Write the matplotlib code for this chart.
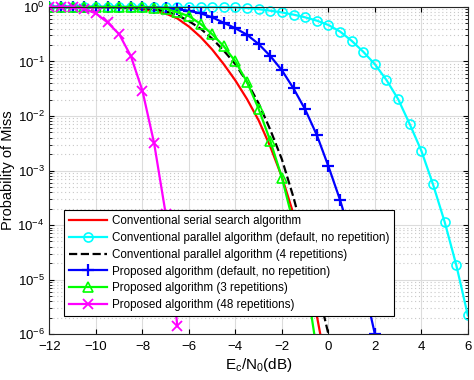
import numpy as np
import matplotlib
matplotlib.use('Agg')
import matplotlib.pyplot as plt
from matplotlib.patches import Rectangle

plt.rcParams['font.family'] = ['Liberation Sans', 'DejaVu Sans']
plt.rcParams['mathtext.default'] = 'regular'

# Ec/N0 (dB) grids, 0.5 dB steps
snr_serial = [-12, -11.5, -11, -10.5, -10, -9.5, -9, -8.5, -8, -7.5, -7, -6.5, -6,
              -5.5, -5, -4.5, -4, -3.5, -3, -2.5, -2, -1.5, -1, -0.5, 0]
pm_serial = [0.9995, 0.999, 0.998, 0.995, 0.99, 0.982, 0.966, 0.94, 0.90, 0.84, 0.76,
             0.617, 0.437, 0.282, 0.166, 0.089, 0.0447, 0.0204, 8.3e-3, 2.75e-3, 7.6e-4,
             1.58e-4, 2.2e-5, 2.2e-6, 1.6e-7]

snr_par = [-12, -11.5, -11, -10.5, -10, -9.5, -9, -8.5, -8, -7.5, -7, -6.5, -6, -5.5,
           -5, -4.5, -4, -3.5, -3, -2.5, -2, -1.5, -1, -0.5, 0, 0.5, 1, 1.5, 2, 2.5,
           3, 3.5, 4, 4.5, 5, 5.5, 6]
pm_par = [1.0, 1.0, 1.0, 1.0, 1.0, 1.0, 1.0, 1.0, 1.0, 1.0, 1.0, 1.0, 0.999, 0.999,
          0.998, 0.993, 0.984, 0.955, 0.912, 0.855, 0.794, 0.724, 0.646, 0.562, 0.468,
          0.355, 0.24, 0.151, 0.089, 0.0457, 0.0204, 7.1e-3, 2.3e-3, 5.6e-4, 1.15e-4,
          1.86e-5, 2.2e-6]

snr_par4 = [-12, -11.5, -11, -10.5, -10, -9.5, -9, -8.5, -8, -7.5, -7, -6.5, -6, -5.5,
            -5, -4.5, -4, -3.5, -3, -2.5, -2, -1.5, -1, -0.5, 0]
pm_par4 = [1.0, 1.0, 0.9995, 0.999, 0.998, 0.995, 0.99, 0.977, 0.955, 0.912, 0.83,
           0.71, 0.55, 0.40, 0.263, 0.158, 0.089, 0.042, 0.017, 5.6e-3, 1.6e-3,
           3.2e-4, 5e-5, 7.9e-6, 1e-6]

snr_prop = [-12, -11.5, -11, -10.5, -10, -9.5, -9, -8.5, -8, -7.5, -7, -6.5, -6, -5.5,
            -5, -4.5, -4, -3.5, -3, -2.5, -2, -1.5, -1, -0.5, 0, 0.5, 1, 1.5, 2]
pm_prop = [1.0, 1.0, 1.0, 1.0, 1.0, 0.999, 0.998, 0.995, 0.99, 0.977, 0.955, 0.912,
           0.85, 0.766, 0.646, 0.513, 0.407, 0.309, 0.209, 0.126, 0.069, 0.032,
           0.0132, 4.5e-3, 1.2e-3, 2.9e-4, 5.6e-5, 8.9e-6, 1e-6]

snr_prop3 = [-12, -11.5, -11, -10.5, -10, -9.5, -9, -8.5, -8, -7.5, -7, -6.5, -6, -5.5,
             -5, -4.5, -4, -3.5, -3, -2.5, -2, -1.5, -1, -0.5]
pm_prop3 = [1.0, 1.0, 1.0, 1.0, 1.0, 1.0, 0.999, 0.997, 0.993, 0.977, 0.93, 0.80,
            0.68, 0.49, 0.316, 0.19, 0.1, 0.042, 0.0135, 3.5e-3, 7.4e-4, 1.05e-4,
            1.26e-5, 5e-7]

snr_prop48 = [-12, -11.5, -11, -10.5, -10, -9.5, -9, -8.5, -8, -7.5, -7, -6.5]
pm_prop48 = [1.0, 1.0, 0.99, 0.93, 0.76, 0.52, 0.316, 0.126, 0.029, 3.2e-3, 1.6e-4,
             1.4e-6]

labels = ['Conventional serial search algorithm',
          'Conventional parallel algorithm (default, no repetition)',
          'Conventional parallel algorithm (4 repetitions)',
          'Proposed algorithm (default, no repetition)',
          'Proposed algorithm (3 repetitions)',
          'Proposed algorithm (48 repetitions)']

fig = plt.figure(figsize=(4.74, 3.8), dpi=100)
ax = fig.add_axes([0.1044, 0.121, 0.8826, 0.8606])

lw = 1.6
ax.semilogy(snr_serial, pm_serial, '-', color='red', lw=lw, label=labels[0])
ax.semilogy(snr_par, pm_par, '-o', color='cyan', lw=lw, ms=6.5, mfc='none', mew=1.2,
            label=labels[1])
ax.semilogy(snr_par4, pm_par4, '--', color='black', lw=lw, label=labels[2])
ax.semilogy(snr_prop, pm_prop, '-+', color='blue', lw=lw, ms=9, mew=1.6, label=labels[3])
ax.semilogy(snr_prop3, pm_prop3, '-^', color='lime', lw=lw, ms=6.5, mfc='none', mew=1.2,
            label=labels[4])
ax.semilogy(snr_prop48, pm_prop48, '-x', color='magenta', lw=lw, ms=7, mew=1.3,
            label=labels[5])

# let the markers sitting on P=1 show above the top edge, like MATLAB
clip = Rectangle((0, 0), 1, 1.06, transform=ax.transAxes)
for line in ax.lines:
    line.set_clip_path(clip)

ax.set_xlim(-12, 6)
ax.set_ylim(1e-6, 1)
ax.set_xticks(np.arange(-12, 7, 2))
ax.set_yticks([1e-6, 1e-5, 1e-4, 1e-3, 1e-2, 1e-1, 1])

ax.grid(True, which='major', color='#dcdcdc', lw=0.8, ls='-')
ax.grid(True, which='minor', axis='y', color='#c8c8c8', lw=0.8, ls=(0, (1, 2.5)))
ax.set_axisbelow(True)

ax.tick_params(which='both', direction='in', top=True, right=True, labelsize=9.5)
ax.tick_params(axis='x', which='minor', bottom=False, top=False)
ax.tick_params(axis='x', pad=5)
for sp in ax.spines.values():
    sp.set_color('#262626')

ax.set_xlabel(r'E$_c$/N$_0$(dB)', fontsize=11)
ax.set_ylabel('Probability of Miss', fontsize=10.5)
ax.xaxis.set_label_coords(0.5, -0.068)
ax.yaxis.set_label_coords(-0.083, 0.5)

leg = ax.legend(loc='lower left', bbox_to_anchor=(0.035, 0.055), fontsize=8.4,
                handlelength=3.3, fancybox=False, framealpha=1, edgecolor='black',
                borderpad=0.4, labelspacing=0.42, handletextpad=0.43, borderaxespad=0)
leg.get_frame().set_linewidth(0.8)

fig.savefig('out.png', dpi=100)
